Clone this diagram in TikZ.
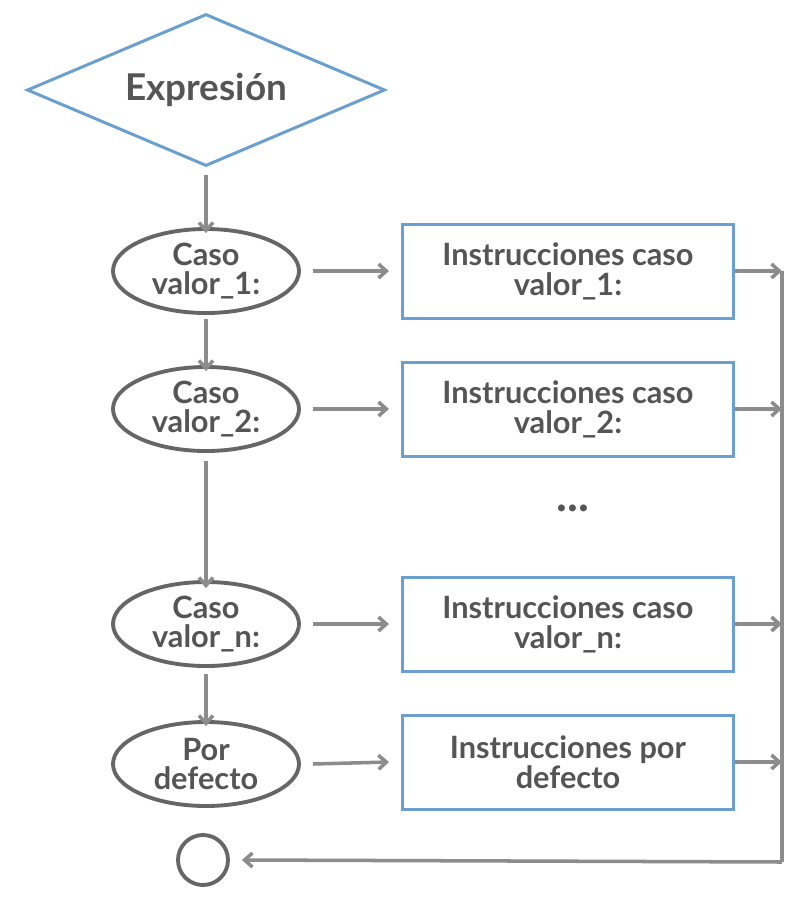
\documentclass[tikz,border=0pt]{standalone}
\usepackage{fontspec}
\setmainfont{Lato}
\usetikzlibrary{shapes.geometric,arrows.meta}
\definecolor{boxblue}{HTML}{6A9FCF}
\definecolor{txtgray}{HTML}{555555}
\definecolor{arrgray}{HTML}{8C8C8C}
\newlength{\unitpx}\setlength{\unitpx}{0.02cm}
\tikzset{
  caso/.style={ellipse,draw=txtgray!90,line width=2.2pt,minimum width=186\unitpx,minimum height=84\unitpx,inner sep=0pt,align=center,text=txtgray,font=\fontsize{17.5}{17}\selectfont\bfseries},
  instr/.style={rectangle,draw=boxblue,line width=1.7pt,minimum width=331\unitpx,minimum height=94\unitpx,align=center,text=txtgray,font=\fontsize{17.5}{17}\selectfont\bfseries},
  flecha/.style={draw=arrgray,line width=2pt,-{Straight Barb[length=4.5pt,width=8pt]}},
}
\begin{document}
\begin{tikzpicture}[x=0.02cm,y=-0.02cm]
    \useasboundingbox (0,0) rectangle (796,907);
    % condicion
    \node[diamond,draw=boxblue,line width=1.7pt,minimum width=358\unitpx,minimum height=152\unitpx,aspect=2.35,inner sep=0pt,text=txtgray,font=\fontsize{21}{20}\selectfont\bfseries] (expr) at (206,90) {Expresión};
    % casos
    \node[caso] (c1) at (206,271) {Caso\\valor\_1:};
    \node[caso] (c2) at (206,409) {Caso\\valor\_2:};
    \node[caso] (cn) at (206,624) {Caso\\valor\_n:};
    \node[caso] (cd) at (206,764) {Por\\defecto};
    \node[circle,draw=txtgray!90,line width=2.2pt,minimum size=50\unitpx,inner sep=0pt] (fin) at (203,860) {};
    % instrucciones
    \node[instr] (i1) at (568,271) {Instrucciones caso\\valor\_1:};
    \node[instr] (i2) at (568,409) {Instrucciones caso\\valor\_2:};
    \node[instr] (in) at (568,624) {Instrucciones caso\\valor\_n:};
    \node[instr] (id) at (568,762) {Instrucciones por\\defecto};
    \node[text=txtgray,font=\fontsize{26}{26}\selectfont\bfseries] (dots) at (573,508) {...};
    \coordinate (r1) at (782,271);
    \coordinate (rd) at (782,862);
    % flechas
    \draw[flecha] ([yshift=-8\unitpx]expr.south) -- ([yshift=-6\unitpx]c1.north);
    \draw[flecha] ([yshift=-4\unitpx]c1.south) -- ([yshift=-6\unitpx]c2.north);
    \draw[flecha] ([yshift=-8\unitpx]c2.south) -- ([yshift=-8\unitpx]cn.north);
    \draw[flecha] ([yshift=-6\unitpx]cn.south) -- ([yshift=-6\unitpx]cd.north);
    \foreach \c/\i in {c1/i1,c2/i2,cn/in,cd/id}{
        \draw[flecha] ([xshift=12\unitpx]\c.east) -- ([xshift=-12\unitpx]\i.west);
        \draw[flecha] (\i.east) -- (\i.east -| r1);
    }
    \draw[draw=arrgray,line width=2pt] (r1) -- (rd);
    \draw[flecha] (rd) -- ([xshift=12\unitpx]fin.east);
\end{tikzpicture}
\end{document}
